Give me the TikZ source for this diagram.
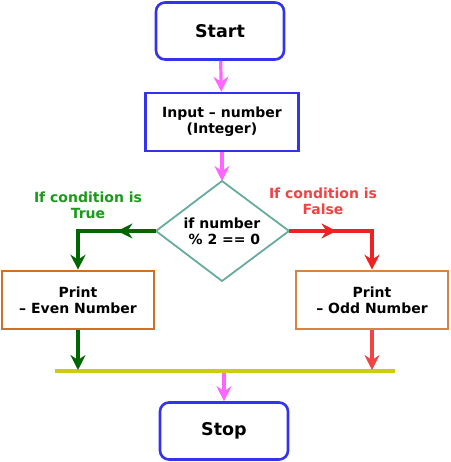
\documentclass[tikz,border=0pt]{standalone}
\usepackage{fontspec}
\setmainfont{DejaVu Sans}
\usetikzlibrary{arrows.meta,decorations.markings}
\definecolor{bblue}{HTML}{3333EE}
\definecolor{pinkc}{HTML}{FF66FF}
\definecolor{teal2}{HTML}{67AB9F}
\definecolor{dgreen}{HTML}{006600}
\definecolor{lgreen}{HTML}{1A9A1A}
\definecolor{redc}{HTML}{EE2222}
\definecolor{redt}{HTML}{EE4444}
\definecolor{orng}{HTML}{D07020}
\definecolor{barc}{HTML}{CCCC11}
\begin{document}
\begin{tikzpicture}[x=1pt,y=-1pt,
  tip/.style={-{Stealth[length=15pt,width=15pt,inset=5pt]}},
  term/.style={draw=bblue,line width=2.6pt,rounded corners=9pt,minimum width=128pt,minimum height=57pt,font=\bfseries\fontsize{17.5}{20}\selectfont},
  proc/.style={draw=bblue,line width=2.6pt,minimum width=153pt,minimum height=58pt,align=center,font=\bfseries\fontsize{14}{16}\selectfont},
  prt/.style={draw=orng,line width=2.6pt,minimum width=152pt,minimum height=58pt,align=center,font=\bfseries\fontsize{14}{16}\selectfont},
  lbl/.style={align=center,font=\bfseries\fontsize{14}{16}\selectfont},
  mid/.style={postaction={decorate},decoration={markings,mark=at position #1 with {\arrow{Stealth[length=15pt,width=15pt,inset=5pt]}}}},
  flow/.style={line width=3.2pt}]
\useasboundingbox (0,0) rectangle (450,462);
\node[term] (start) at (220,31) {Start};
\node[proc] (input) at (222,122) {Input -- number\\(Integer)};
\coordinate (dt) at (222,181);
\coordinate (dr) at (289,231);
\coordinate (db) at (222,281);
\coordinate (dl) at (156,231);
\draw[teal2,line width=1.8pt] (dt) -- (dr) -- (db) -- (dl) -- cycle;
\node[lbl] (dtext) at (222,231) {if number\\\ \% 2 == 0};
\node[prt] (even) at (78,300) {Print\\– Even Number};
\node[prt,draw=orng!85!white] (odd) at (372,300) {Print\\– Odd Number};
\node[term] (stop) at (224,431) {Stop};
\coordinate (bl) at (55,371);
\coordinate (br) at (395,371);
\draw[barc,line width=4.5pt] (bl) -- (br);
\coordinate (gc) at (78,231);
\coordinate (rc) at (372,231);
\coordinate (ge) at (78,370);
\coordinate (re) at (372,370);
\coordinate (sb) at (224,373);
\draw[pinkc,flow,tip] (start) -- (input);
\draw[pinkc,flow,tip] (input) -- (dt);
\draw[dgreen,flow,tip,mid=0.33] (dl) -- (gc) -- (even);
\draw[redc,flow,tip,mid=0.39] (dr) -- (rc) -- (odd);
\draw[dgreen,flow,tip] (even) -- (ge);
\draw[redc!85!white,flow,tip] (odd) -- (re);
\draw[pinkc,flow,tip] (sb) -- (stop);
\node[lbl,text=lgreen] (tl) at (88,205) {If condition is\\True};
\node[lbl,text=redt] (fl) at (323,201) {If condition is\\False};
\end{tikzpicture}
\end{document}
